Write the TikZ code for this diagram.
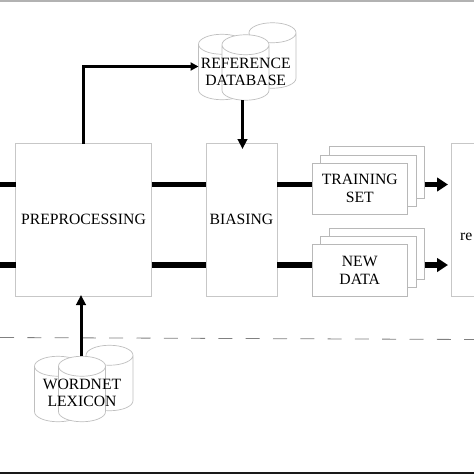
\documentclass[tikz,border=0pt]{standalone}
\usepackage{fontspec}
\setmainfont{Liberation Serif}
\usetikzlibrary{arrows.meta, positioning}

\begin{document}
\begin{tikzpicture}[
  x=1pt, y=-1pt,
  node distance=54.5pt,
  box/.style={draw=black!22, line width=0.8pt, fill=white, outer sep=0pt, inner sep=0pt,
              minimum width=136pt, minimum height=152.5pt,
              align=center, font=\fontsize{15.7}{18}\selectfont},
  card/.style={draw=black!28, line width=0.8pt, fill=white, outer sep=0pt, inner sep=0pt,
               minimum width=95.5pt, minimum height=51.5pt,
               align=center, font=\fontsize{15.7}{18}\selectfont},
  drum/.pic={
    \draw[draw=black!25, line width=0.7pt, fill=white]
      (-23.5,-22.75) -- (-23.5,22.75)
      arc[start angle=180, end angle=360, x radius=23.5pt, y radius=10pt]
      -- (23.5,-22.75)
      arc[start angle=0, end angle=360, x radius=23.5pt, y radius=10pt]
      arc[start angle=0, end angle=-180, x radius=23.5pt, y radius=10pt];
    \coordinate (-north) at (0,-32.75);
    \coordinate (-south) at (0,32.75);
    \coordinate (-west) at (-23.5,0);
  },
  art/.style={align=center, inner sep=0pt, font=\fontsize{15.7}{17}\selectfont},
  bar/.style={line width=5.5pt, black},
  arr/.style={-{Triangle[length=11pt, width=13.5pt]}, line width=5.5pt, black},
  thin/.style={-{Triangle[length=10pt, width=9.5pt]}, line width=3pt, black}
]
  \useasboundingbox (0,0) rectangle (474,474);
  \fill[black!30] (0,0) rectangle (474,2);
  \fill[black!90] (0,472) rectangle (474,474);

  % main blocks
  \node[box, anchor=north west] (pre) at (15.5,143.5) {PREPROCESSING};
  \node[box, minimum width=71pt, right=of pre] (bias) {BIASING};
  \node[box, minimum width=40pt, anchor=north west] (rec) at (451,143.5) {};
  \node[art, anchor=west] (rectext) at (460,237) {re};

  % stacked cards
  \node[card, anchor=north west] (train3) at (329,146.5) {};
  \node[card, anchor=north west] (train2) at (320.5,155) {};
  \node[card, anchor=north west] (train1) at (312,163) {TRAINING\\SET};
  \node[card, anchor=north west] (new3) at (329,228) {};
  \node[card, anchor=north west] (new2) at (320.5,236) {};
  \node[card, anchor=north west] (new1) at (312,244.5) {NEW\\DATA};

  % dashed separator
  \coordinate (sepl) at (0,337.5);
  \coordinate (sepr) at (474,339.5);
  \draw[black!50, line width=0.8pt, dash pattern=on 14pt off 13.3pt] (sepl) -- (sepr);

  % databases
  \pic (ref3) at (272.5,55.5) {drum};
  \pic (ref1) at (222,67) {drum};
  \pic (ref2) at (245.5,67.5) {drum};
  \node[art] (reftext) at (245.7,71.5) {REFERENCE\\DATABASE};
  \pic (lex3) at (109.5,378) {drum};
  \pic (lex1) at (58,389) {drum};
  \pic (lex2) at (82,389) {drum};
  \node[art] (lextext) at (82,393) {WORDNET\\LEXICON};

  % thick lines
  \coordinate (ina) at (0,184.5);
  \coordinate (inb) at (0,265);
  \draw[bar] (ina) -- (ina -| pre.west);
  \draw[bar] (inb) -- (inb -| pre.west);
  \draw[bar] (ina -| pre.east) -- (ina -| bias.west);
  \draw[bar] (inb -| pre.east) -- (inb -| bias.west);
  \draw[bar] (ina -| bias.east) -- (ina -| train1.west);
  \draw[bar] (inb -| bias.east) -- (inb -| new1.west);
  \draw[arr] (ina -| train3.east) -- ([xshift=-3pt]ina -| rec.west);
  \draw[arr] (inb -| new3.east) -- ([xshift=-3pt]inb -| rec.west);

  % thin arrows
  \draw[thin, -{Triangle[length=8pt, width=8pt]}] (pre.north) |- ([yshift=0.5pt]ref1-west);
  \draw[thin] ([xshift=1pt]bias.north |- ref2-south) -- ([xshift=1pt, yshift=-5.5pt]bias.north);
  \draw[thin] ([xshift=-1pt]lex2-north) -- ([yshift=1pt, xshift=-2.5pt]pre.south);
\end{tikzpicture}
\end{document}
